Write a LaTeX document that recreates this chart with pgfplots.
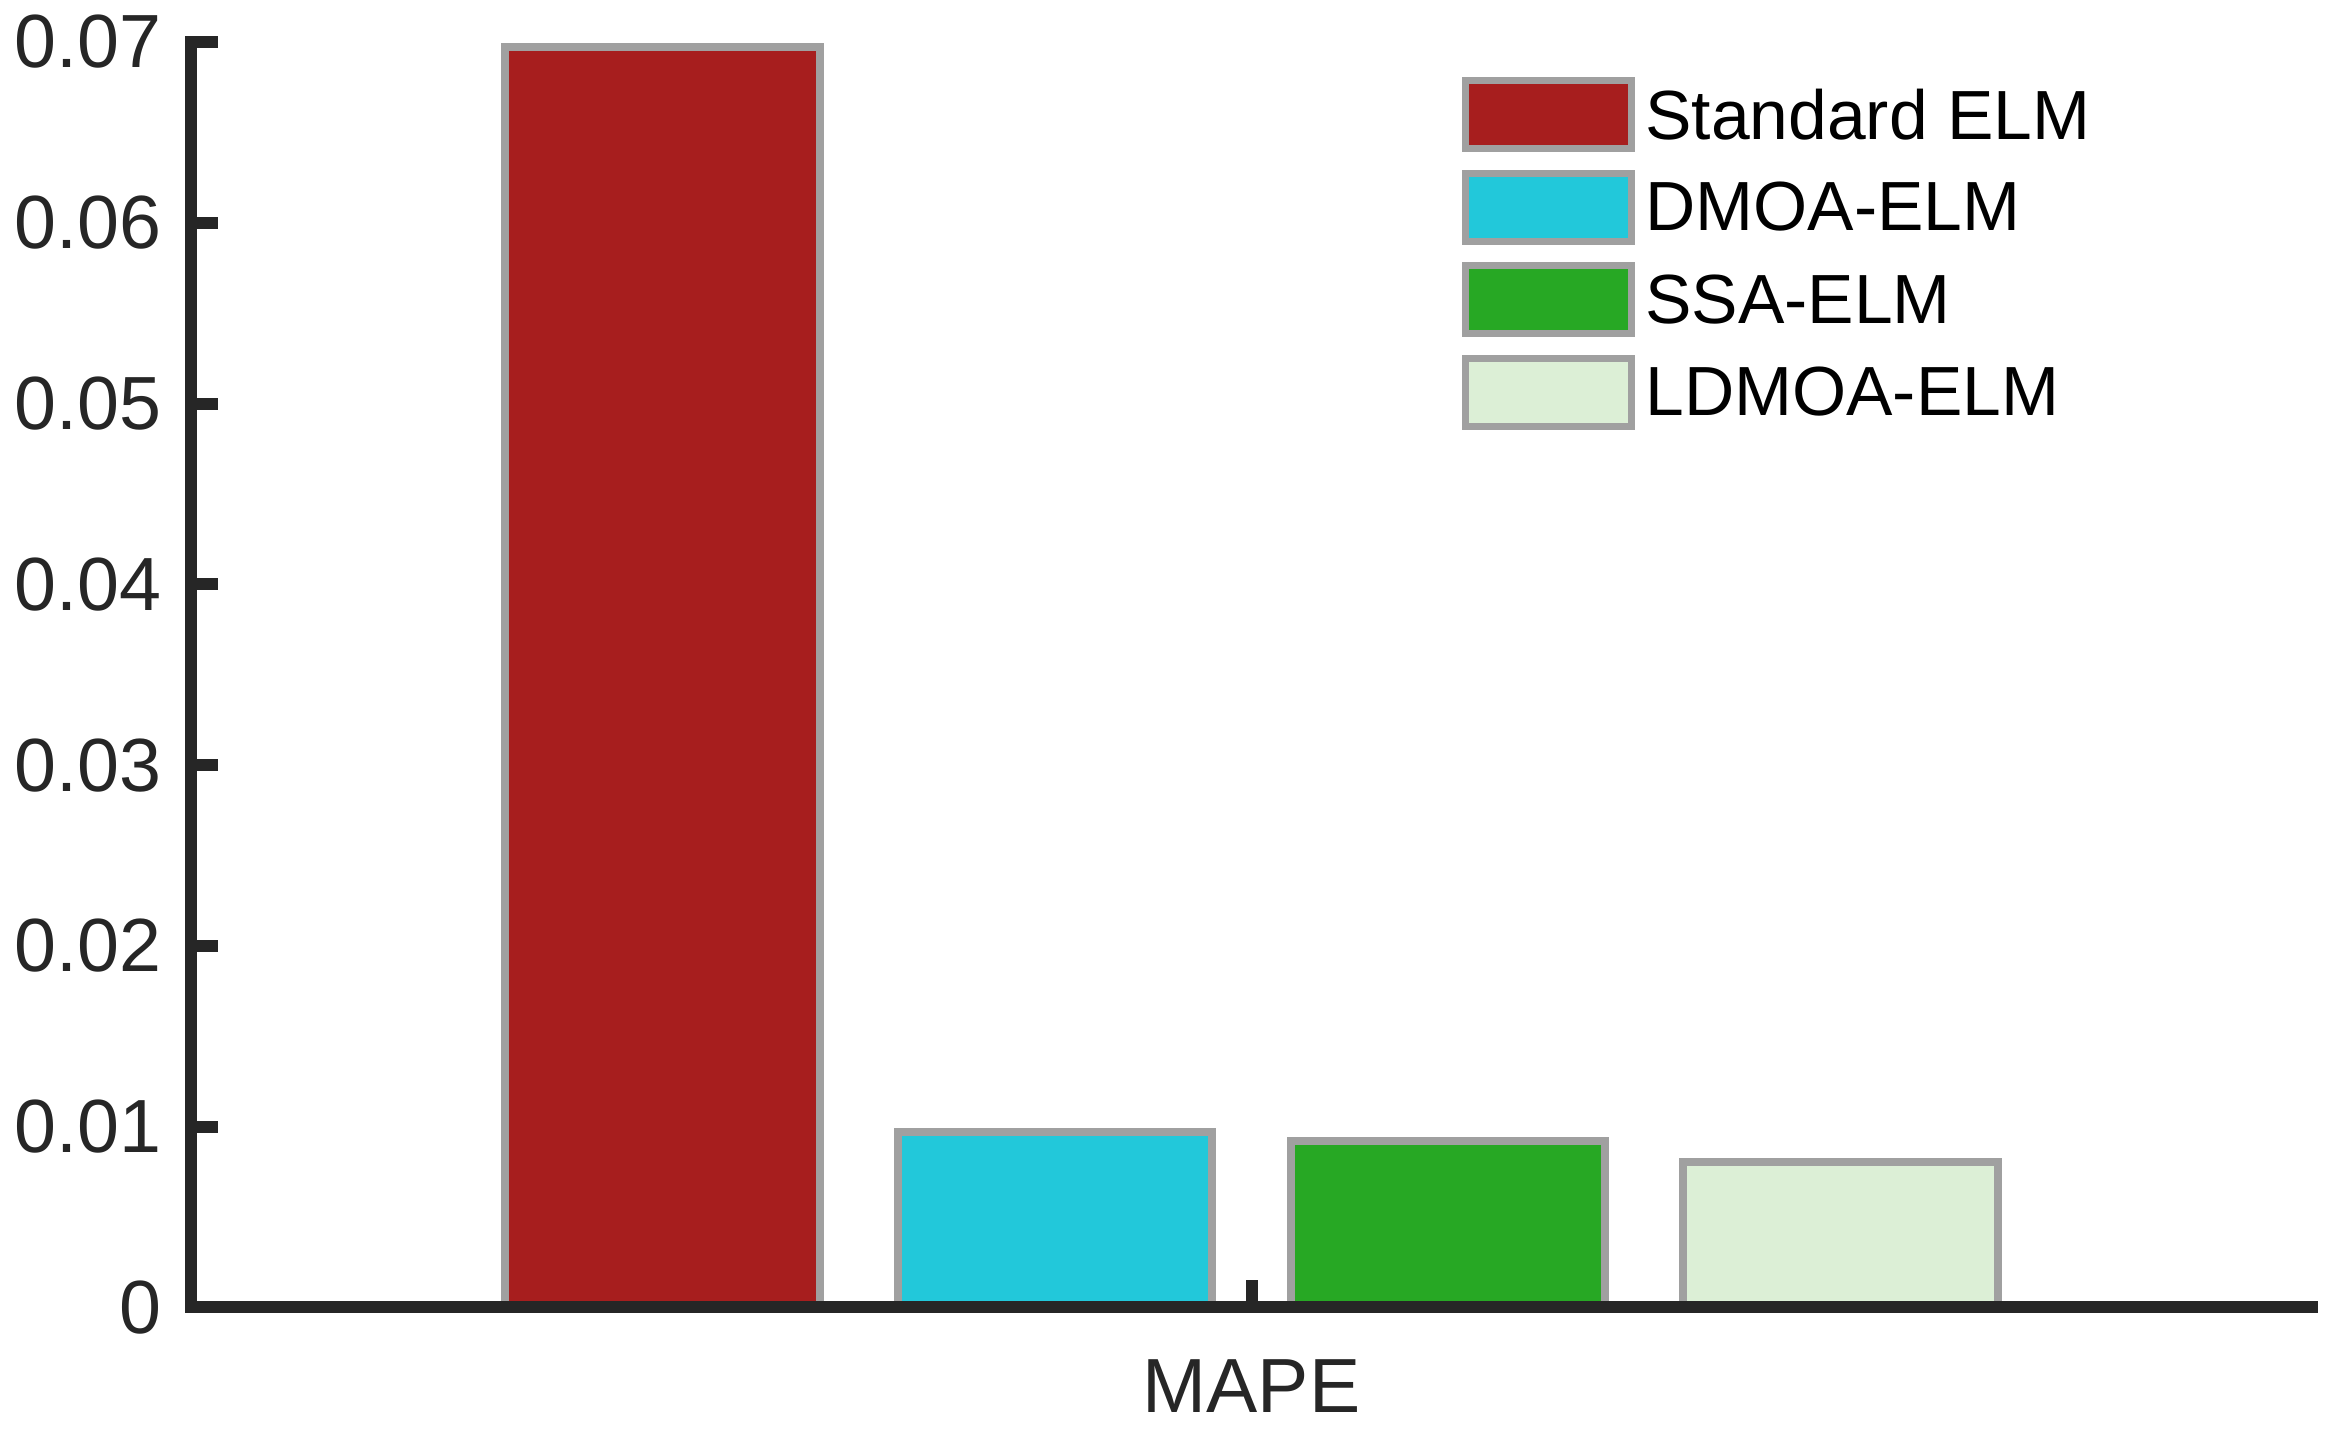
\documentclass[border=0pt]{standalone}
\usepackage{fontspec}
\setmainfont{Liberation Sans}
\usepackage{pgfplots}
\pgfplotsset{compat=1.18}
\definecolor{axc}{HTML}{262626}
\definecolor{c1}{RGB}{167,30,30}
\definecolor{c2}{RGB}{34,200,218}
\definecolor{c3}{RGB}{39,168,36}
\definecolor{c4}{RGB}{220,239,214}
\definecolor{edge}{RGB}{160,160,160}
\begin{document}
\begin{tikzpicture}
\useasboundingbox (0,0) rectangle (23.35cm,14.29cm);
\begin{axis}[
  at={(1.91cm,1.215cm)}, anchor=south west,
  scale only axis, width=21.21cm, height=12.655cm,
  xmin=0.5, xmax=1.5, ymin=0, ymax=0.07,
  axis lines=left,
  axis line style={-, line width=0.12cm, color=axc, line cap=rect},
  ybar=0.782cm, bar width=3.145cm,
  xtick={1}, xticklabels={MAPE},
  ytick={0,0.01,0.02,0.03,0.04,0.05,0.06,0.07},
  yticklabels={0,0.01,0.02,0.03,0.04,0.05,0.06,0.07},
  scaled y ticks=false,
  tick align=inside,
  major tick length=0.27cm,
  every tick/.style={axc, line width=0.12cm},
  tick label style={font=\fontsize{21.45}{24}\selectfont, text=axc},
  yticklabel style={xshift=-0.17cm},
  xticklabel style={font=\fontsize{21.85}{24}\selectfont, yshift=-0.40cm},
  axis on top,
  legend cell align=left,
  legend style={draw=none, fill=none, at={(0.5992,0.9723)}, anchor=north west,
    inner sep=0pt, outer sep=0pt, font=\fontsize{19.8}{22}\selectfont,
    row sep=0.175cm, column sep=0.105cm, nodes={inner sep=0pt}},
  legend image code/.code={\draw[#1,/tikz/.cd,line width=0.07cm] (0cm,-0.32cm) rectangle (1.66cm,0.36cm);},
]
\addplot[fill=c1, draw=edge, line width=0.08cm] coordinates {(1,0.06973)};
\addplot[fill=c2, draw=edge, line width=0.08cm] coordinates {(1,0.00971)};
\addplot[fill=c3, draw=edge, line width=0.08cm] coordinates {(1,0.00921)};
\addplot[fill=c4, draw=edge, line width=0.08cm] coordinates {(1,0.00805)};
\legend{Standard ELM, DMOA-ELM, SSA-ELM, LDMOA-ELM}
\end{axis}
\end{tikzpicture}
\end{document}
